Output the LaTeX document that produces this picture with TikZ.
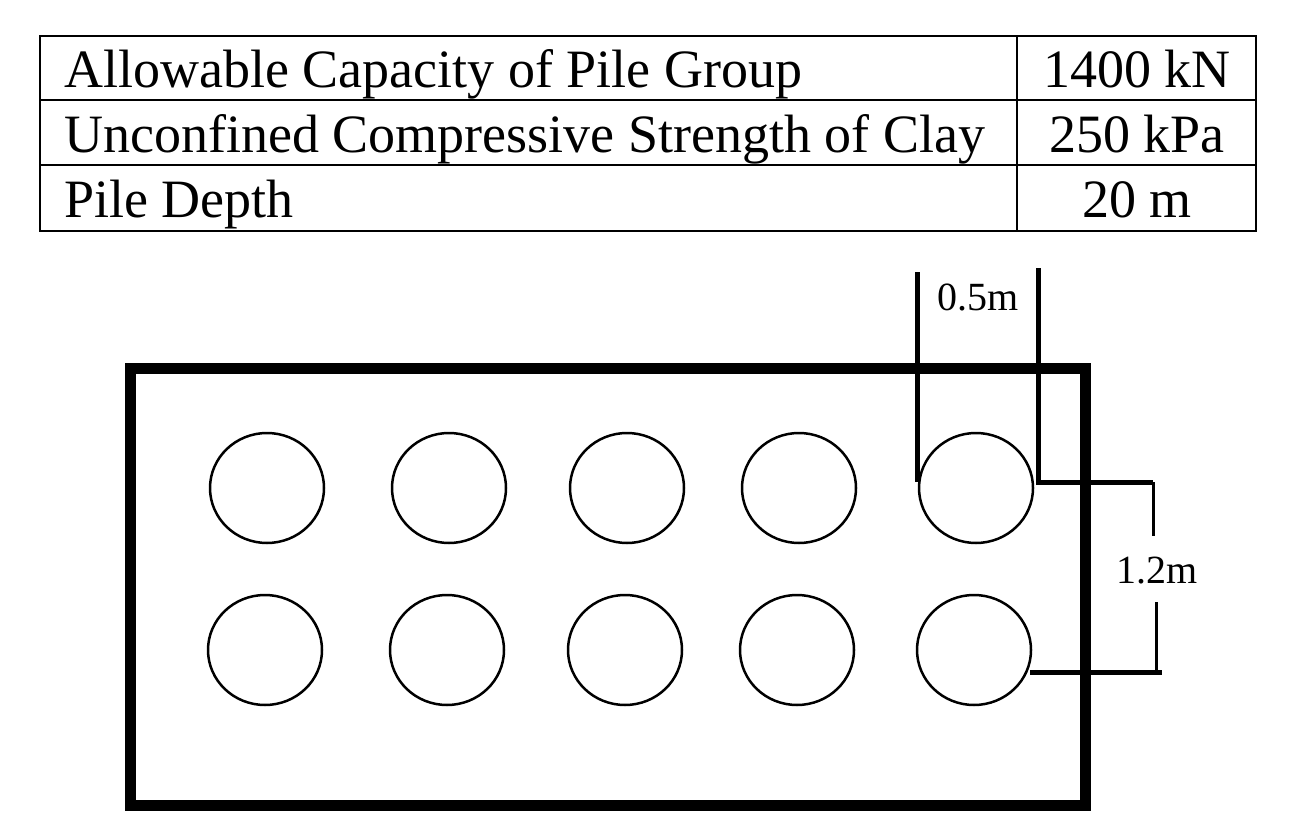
\documentclass[tikz,border=0pt]{standalone}
\usetikzlibrary{shapes.geometric}
\usepackage{fontspec}
\setmainfont{Liberation Serif}
\begin{document}
\begin{tikzpicture}[x=1pt,y=-1pt,
  cell/.style={font=\fontsize{54}{54}\selectfont,inner sep=0pt},
  pile/.style={draw,line width=2.5pt,ellipse,minimum width=114pt,minimum height=110pt,inner sep=0pt},
  dim/.style={line width=5pt},
  thin dim/.style={line width=3pt},
  lab/.style={font=\fontsize{40}{40}\selectfont,inner sep=1pt}]
\useasboundingbox (0,0) rectangle (1292,818);
% table
\draw[line width=2.5pt] (40,36) rectangle (1256,231);
\draw[line width=2pt] (40,100) -- (1256,100) (40,165) -- (1256,165) (1017,36) -- (1017,231);
\node[cell,anchor=base west] (t1) at (64,88) {Allowable Capacity of Pile Group};
\node[cell,anchor=base west] (t2) at (64,153) {Unconfined Compressive Strength of Clay};
\node[cell,anchor=base west] (t3) at (64,218) {Pile Depth};
\node[cell,anchor=base] (v1) at (1137,88) {1400 kN};
\node[cell,anchor=base] (v2) at (1137,153) {250 kPa};
\node[cell,anchor=base] (v3) at (1137,218) {20 m};
% cap
\draw[line width=11pt] (130,368) rectangle (1085,805);
\foreach \x [count=\i] in {267,449,627,799,976} {
  \node[pile] (a\i) at (\x,488) {};
  \node[pile] (b\i) at (\x-2,650) {};
}
% dims
\coordinate (d1t) at (917,272); \coordinate (d1b) at (917,482);
\coordinate (d2t) at (1038,268); \coordinate (d2b) at (1038,482);
\coordinate (e1) at (1030,672);
\draw[dim] (d1t) -- (d1b);
\draw[dim] (d2t) -- (d2b) -- (1153,482);
\draw[dim] (e1) -- (1162,672);
\draw[thin dim] (1153,482) -- (1153,536);
\draw[thin dim] (1156,602) -- (1156,672);
\node[lab,anchor=base] (l1) at (978,310) {0.5m};
\node[lab,anchor=base] (l2) at (1157,583) {1.2m};
\end{tikzpicture}
\end{document}
